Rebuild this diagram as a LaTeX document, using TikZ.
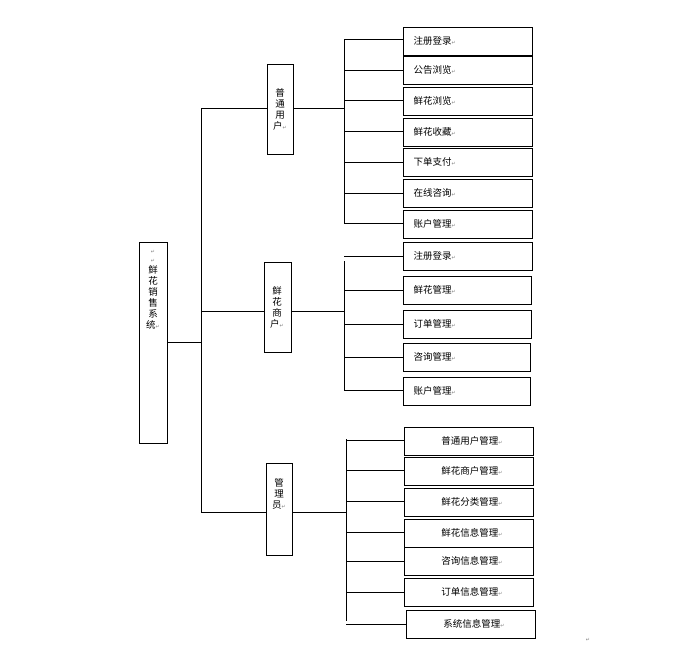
\documentclass[tikz,border=0pt]{standalone}
\usepackage{fontspec}
\setmainfont{Noto Sans CJK SC}
\newfontfamily\djv{DejaVu Sans}
\newcommand{\parmk}{{\djv\tiny\textcolor{gray}{↵}}}
\tikzset{box/.style={draw,line width=0.8pt,minimum height=28pt,anchor=north west,inner sep=0pt},
 vbox/.style={draw,line width=0.8pt,anchor=north west,inner sep=0pt},
 ln/.style={line width=0.8pt},
 lt/.style={font=\fontsize{9.5pt}{11pt}\selectfont}}
\begin{document}
\begin{tikzpicture}[x=1pt,y=-1pt]
\useasboundingbox (0,0) rectangle (690,654);
\fill[white] (0,0) rectangle (690,654);
% root
\node[vbox,minimum width=28pt,minimum height=201pt] (root) at (139,242) {};
\node[lt,align=center,text width=14pt,anchor=north] at (153,247) {\parmk\\[-2pt]\parmk\\鲜\\花\\销\\售\\系\\统\parmk};
% mid boxes
\node[vbox,minimum width=26pt,minimum height=90pt] (u) at (267,64) {};
\node[lt,align=center,text width=14pt] at (280,109) {普\\通\\用\\户\parmk};
\node[vbox,minimum width=27pt,minimum height=90pt] (m) at (264,262) {};
\node[lt,align=center,text width=14pt] at (277,307) {鲜\\花\\商\\户\parmk};
\node[vbox,minimum width=26pt,minimum height=92pt] (a) at (266,463) {};
\node[lt,align=center,text width=14pt] at (279,494) {管\\理\\员\parmk};
% trunk
\coordinate (r0) at (201,342);
\draw[ln] (root.east |- r0) -- (r0);
\draw[ln] (201,108) -- (201,512);
\draw[ln] (201,108) -- (u.west |- 0,108);
\draw[ln] (201,311) -- (m.west |- 0,311);
\draw[ln] (201,512) -- (a.west |- 0,512);
% user leaves
\draw[ln] (u.east |- 0,108) -- (344,108);
\draw[ln] (344,39) -- (344,223);
\foreach \y/\yc/\t/\n in {27/39/注册登录/u1,56/70/公告浏览/u2,87/100/鲜花浏览/u3,118/131/鲜花收藏/u4,148/162/下单支付/u5,179/193/在线咨询/u6,210/223/账户管理/u7}{
 \node[box,minimum width=129pt] (\n) at (403,\y) {};
 \node[lt,anchor=west] at (410,\y+14) {\t\parmk};
 \draw[ln] (344,\yc) -- (\n.west |- 0,\yc);
}
% merchant leaves
\draw[ln] (m.east |- 0,311) -- (344,311);
\draw[ln] (344,261) -- (344,390);
\foreach \y/\yc/\w/\t/\n in {242/256/129/注册登录/m1,276/290/128/鲜花管理/m2,310/324/128/订单管理/m3,343/357/127/咨询管理/m4,377/390/127/账户管理/m5}{
 \node[box,minimum width=\w pt] (\n) at (403,\y) {};
 \node[lt,anchor=west] at (410,\y+14) {\t\parmk};
 \draw[ln] (344,\yc) -- (\n.west |- 0,\yc);
}
% admin leaves
\draw[ln] (a.east |- 0,512) -- (346,512);
\draw[ln] (346,439) -- (346,621);
\foreach \x/\y/\yc/\t/\n in {404/427/440/普通用户管理/a1,404/457/470/鲜花商户管理/a2,404/488/501/鲜花分类管理/a3,404/519/532/鲜花信息管理/a4,404/547/561/咨询信息管理/a5,404/578/592/订单信息管理/a6,406/610/624/系统信息管理/a7}{
 \node[box,minimum width=129pt] (\n) at (\x,\y) {};
 \node[lt] at (\x+68,\y+14) {\t\parmk};
 \draw[ln] (346,\yc) -- (\n.west |- 0,\yc);
}
\node (endmark) at (588,640) {\parmk};
\end{tikzpicture}
\end{document}
